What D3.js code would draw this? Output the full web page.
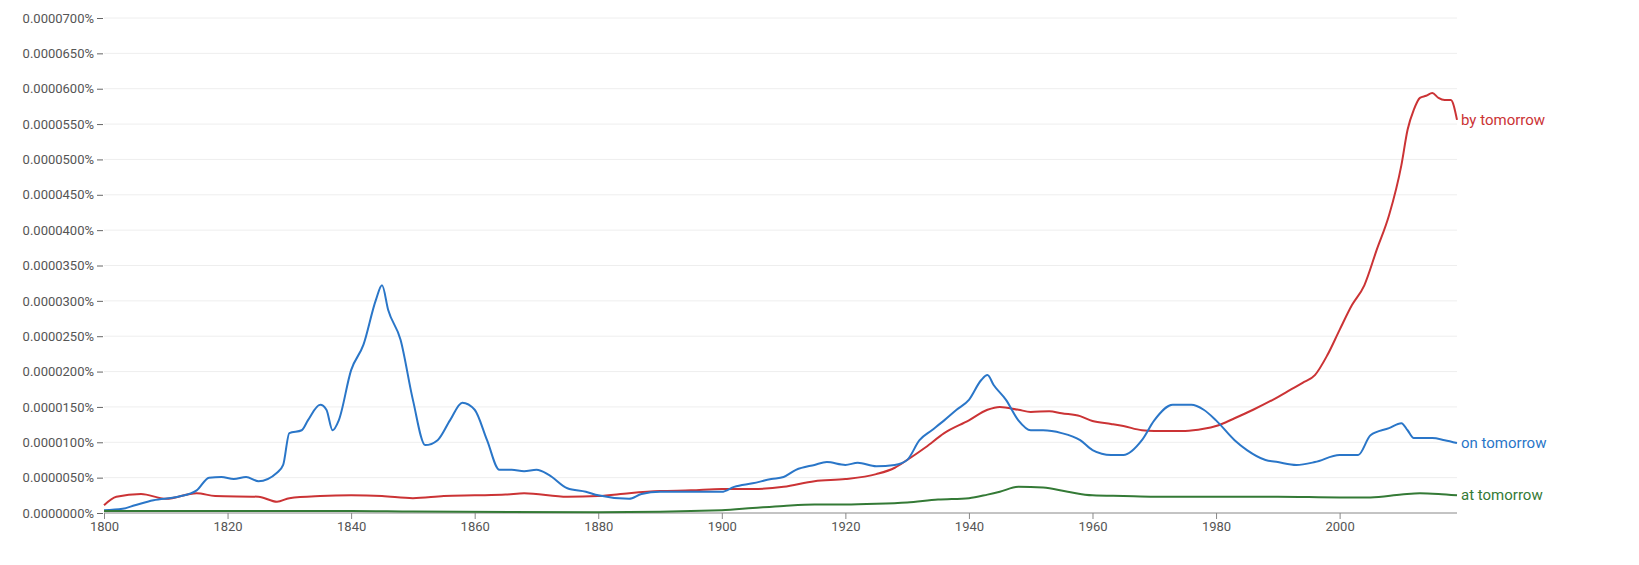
<!DOCTYPE html>
<html><head><meta charset="utf-8">
<script src="https://cdn.jsdelivr.net/npm/d3@7"></script>
<style>html,body{margin:0;padding:0;overflow:hidden;background:#fff;font-family:Roboto,sans-serif}svg{display:block}</style>
</head><body><svg width="1639" height="565"></svg>
<script>
// values in units of 0.0000001 %
const UNIT = 1e-7;
const byYears = [1800,1802,1806,1810,1815,1818,1825,1828,1830,1835,1840,1845,1850,1855,1860,1865,1868,1875,1880,1885,1890,1895,1900,1905,1910,1915,1920,1925,1928,1930,1933,1936,1940,1943,1945,1948,1950,1953,1955,1958,1960,1963,1965,1968,1970,1975,1978,1980,1983,1986,1990,1992,1994,1996,1998,2000,2002,2004,2006,2008,2010,2011,2012,2013,2014,2015,2016,2017,2018,2019];
const byVals = [11,23,27,20,28,24,23,16,21,24,25,24,21,24,25,26,28,23,24,28,31,32,34,34,37,45,48,55,64,75,93,113,131,146,150,146,143,144,141,137,130,126,123,117,116,116,119,123,134,146,164,174,184,195,223,259,294,322,372,421,492,542,570,587,590,594,587,584,584,556];
const onYears = [1800,1803,1805,1808,1812,1815,1817,1819,1821,1823,1825,1828,1829,1830,1832,1833,1835,1836,1837,1838,1840,1842,1844,1845,1846,1848,1850,1852,1854,1856,1858,1860,1862,1864,1866,1868,1870,1872,1875,1878,1880,1885,1887,1890,1895,1900,1902,1905,1908,1910,1912,1915,1917,1920,1922,1925,1928,1930,1932,1934,1936,1938,1940,1942,1943,1944,1946,1948,1950,1952,1955,1958,1960,1963,1965,1968,1970,1973,1976,1978,1980,1983,1985,1988,1990,1993,1996,2000,2003,2005,2008,2010,2011,2012,2015,2017,2019];
const onVals = [4,6,11,18,23,32,50,51,48,51,45,57,68,113,117,131,153,146,117,131,202,238,301,322,287,245,160,96,103,131,156,146,103,61,61,59,61,54,35,30,25,20,27,30,30,30,37,42,48,51,61,68,72,68,71,66,68,75,103,117,131,146,160,188,195,181,160,131,117,117,113,103,89,82,82,103,131,153,153,146,131,103,89,75,72,68,72,82,82,110,120,127,117,106,106,103,99];
const atYears = [1800,1840,1850,1880,1900,1905,1910,1915,1920,1925,1930,1935,1940,1943,1945,1948,1952,1956,1960,1965,1970,1980,1990,2000,2005,2010,2013,2016,2019];
const atVals = [3,3,2,1,4,7,10,12,12,13,15,19,21,26,30,37,36,30,25,24,23,23,23,22,22,26,28,27,25];
const yTicks = d3.range(0, 701, 50);
const xTicks = d3.range(1800, 2001, 20);
const series = [
  {name:"by tomorrow", color:"#cb3335", years:byYears, vals:byVals},
  {name:"on tomorrow", color:"#2a76c8", years:onYears, vals:onVals},
  {name:"at tomorrow", color:"#347a36", years:atYears, vals:atVals}
];

const svg = d3.select("svg");
const x = d3.scaleLinear().domain([1800, 2019]).range([104, 1457]);
const y = d3.scaleLinear().domain([0, 700]).range([513, 18]);

svg.append("g").selectAll("line").data(yTicks.slice(1)).join("line")
  .attr("x1", 104).attr("x2", 1457).attr("y1", d => y(d)).attr("y2", d => y(d))
  .attr("stroke", "#eee");

const ya = svg.append("g").attr("transform", "translate(104,0)")
  .call(d3.axisLeft(y).tickValues(yTicks).tickSize(6).tickPadding(4)
    .tickFormat(d => (d * UNIT).toFixed(7) + "%"));
ya.select(".domain").remove();
ya.selectAll("line").attr("stroke", "#666").attr("transform", "translate(-1,0)");
ya.selectAll("text").attr("fill", "#555").style("font-size", "13px").style("font-family", "Roboto");

const xa = svg.append("g").attr("transform", "translate(0,513)")
  .call(d3.axisBottom(x).tickValues(xTicks).tickSize(6).tickFormat(d3.format("d")));
xa.select(".domain").attr("stroke", "#888").attr("d", "M104,0H1457");
xa.selectAll("line").attr("stroke", "#888");
xa.selectAll("text").attr("fill", "#555").style("font-size", "13px").style("font-family", "Roboto");

const line = d3.line().curve(d3.curveMonotoneX).x(d => x(d[0])).y(d => y(d[1]));
series.forEach(s => {
  const pts = s.years.map((yr, i) => [yr, s.vals[i]]);
  svg.append("path").datum(pts).attr("d", line)
    .attr("fill", "none").attr("stroke", s.color).attr("stroke-width", 2);
  const last = pts[pts.length - 1];
  svg.append("text").attr("x", x(last[0]) + 4).attr("y", y(last[1]) + 5)
    .attr("fill", s.color).style("font-size", "15px").style("font-family", "Roboto")
    .text(s.name);
});
</script></body></html>
